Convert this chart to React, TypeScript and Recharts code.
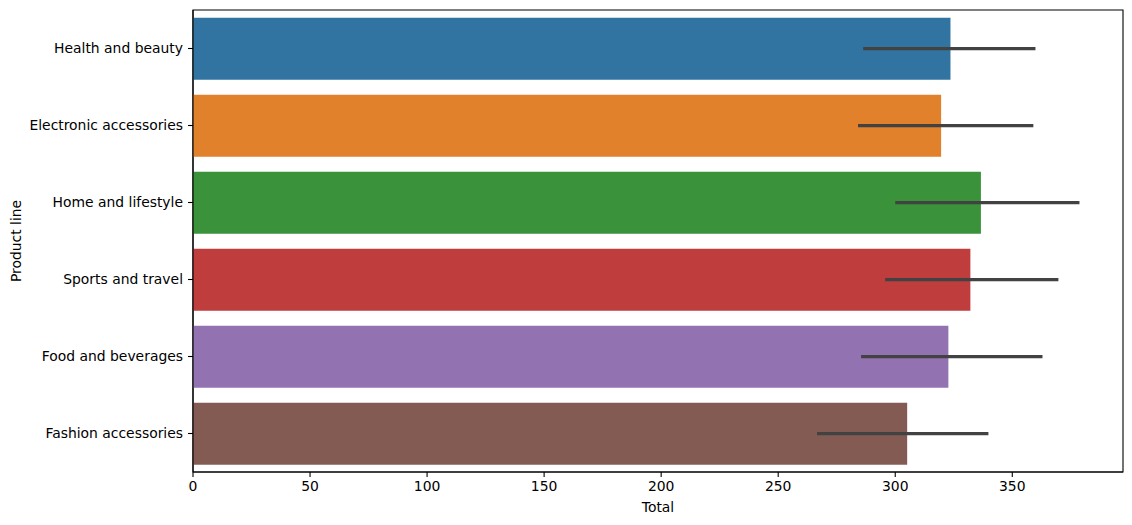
import React from 'react';
import { BarChart, Bar, XAxis, YAxis, Cell, ErrorBar, ReferenceArea, Label } from 'recharts';

const categories = [
  'Health and beauty',
  'Electronic accessories',
  'Home and lifestyle',
  'Sports and travel',
  'Food and beverages',
  'Fashion accessories',
];
const means = [323.6, 319.6, 336.6, 332.1, 322.7, 305.1];
const lows = [286.3, 284.1, 300.0, 295.7, 285.4, 266.6];
const highs = [359.9, 359.0, 378.7, 369.7, 362.9, 339.8];
const colors = ['#3274a1', '#e1812c', '#3a923a', '#c03d3e', '#9372b2', '#845b53'];
const xTicks = [0, 50, 100, 150, 200, 250, 300, 350];
const xMax = 397.3;

const data = categories.map((name, i) => ({
  name,
  total: means[i],
  err: [means[i] - lows[i], highs[i] - means[i]],
}));

const FONT = 'DejaVu Sans, sans-serif';
const FS = 13.9;

export default function App() {
  return (
    <div style={{ width: 1116, height: 510 }}>
      <BarChart
        width={1116}
        height={510}
        data={data}
        layout="vertical"
        margin={{ top: 2, right: 1, bottom: 0, left: 0 }}
        barCategoryGap="10%"
      >
        <XAxis
          type="number"
          domain={[0, xMax]}
          ticks={xTicks}
          height={46}
          tickSize={5}
          tickMargin={4}
          axisLine={{ stroke: '#000', strokeWidth: 1.1 }}
          tickLine={{ stroke: '#000', strokeWidth: 1.1 }}
          tick={{ fill: '#000', fontSize: FS, fontFamily: FONT }}
        >
          <Label
            content={({ viewBox }: any) => (
              <text
                x={viewBox.x + viewBox.width / 2}
                y={499}
                textAnchor="middle"
                dominantBaseline="central"
                fill="#000"
                fontSize={FS}
                fontFamily={FONT}
              >
                Total
              </text>
            )}
          />
        </XAxis>
        <YAxis
          type="category"
          dataKey="name"
          width={185}
          tickSize={5}
          tickMargin={5}
          axisLine={{ stroke: '#000', strokeWidth: 1.1 }}
          tickLine={{ stroke: '#000', strokeWidth: 1.1 }}
          tick={{ fill: '#000', fontSize: FS, fontFamily: FONT }}
        >
          <Label
            content={({ viewBox }: any) => {
              const cy = viewBox.y + viewBox.height / 2;
              return (
                <text
                  x={8}
                  y={cy}
                  transform={`rotate(-90, 8, ${cy})`}
                  textAnchor="middle"
                  dominantBaseline="central"
                  fill="#000"
                  fontSize={FS}
                  fontFamily={FONT}
                >
                  Product line
                </text>
              );
            }}
          />
        </YAxis>
        <Bar dataKey="total" isAnimationActive={false}>
          {data.map((d, i) => (
            <Cell key={d.name} fill={colors[i]} />
          ))}
          <ErrorBar dataKey="err" direction="x" width={0} strokeWidth={3.2} stroke="#424242" />
        </Bar>
        <ReferenceArea x1={0} x2={xMax} fill="none" stroke="#000" strokeWidth={1.1} ifOverflow="extendDomain" />
      </BarChart>
    </div>
  );
}
